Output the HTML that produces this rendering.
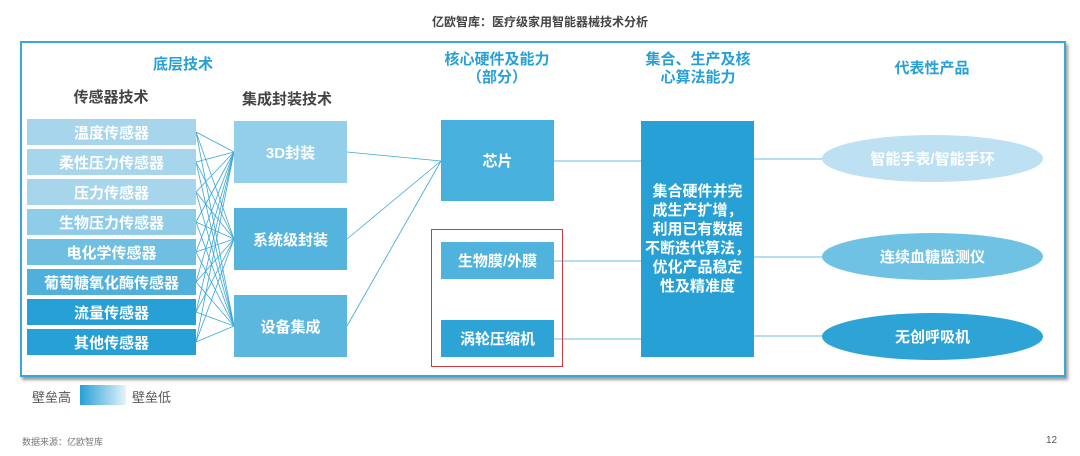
<!DOCTYPE html>
<html><head><meta charset="utf-8"><style>
body{margin:0;width:1080px;height:456px;background:#fff;position:relative;overflow:hidden;font-family:"Liberation Sans","Noto Sans CJK SC",sans-serif;}
.a{position:absolute;display:flex;align-items:center;justify-content:center;color:#fff;font-weight:bold;text-align:center;}
.h{position:absolute;color:#27a0d6;font-weight:bold;font-size:15px;text-align:center;line-height:18px;}
.s{left:27px;width:169px;height:26px;font-size:15px;}
.p{left:234px;width:113px;height:62px;font-size:15px;}
.e{left:822px;width:221px;height:47px;border-radius:50%;font-size:15px;}
</style></head><body>
<div style="position:absolute;left:0;top:13px;width:1080px;text-align:center;font-size:12px;font-weight:bold;color:#444;">亿欧智库：医疗级家用智能器械技术分析</div>
<div style="position:absolute;left:20px;top:41px;width:1042px;height:332px;border:2px solid #3aa7da;box-shadow:2px 3px 3px #999;"></div>
<svg style="position:absolute;left:0;top:0" width="1080" height="456">
<g stroke="#3aa7da" stroke-width="0.8">
<line x1="196" y1="132" x2="234" y2="152"/><line x1="196" y1="132" x2="234" y2="239"/><line x1="196" y1="132" x2="234" y2="326"/>
<line x1="196" y1="162" x2="234" y2="152"/><line x1="196" y1="162" x2="234" y2="239"/><line x1="196" y1="162" x2="234" y2="326"/>
<line x1="196" y1="192" x2="234" y2="152"/><line x1="196" y1="192" x2="234" y2="239"/><line x1="196" y1="192" x2="234" y2="326"/>
<line x1="196" y1="222" x2="234" y2="152"/><line x1="196" y1="222" x2="234" y2="239"/><line x1="196" y1="222" x2="234" y2="326"/>
<line x1="196" y1="252" x2="234" y2="152"/><line x1="196" y1="252" x2="234" y2="239"/><line x1="196" y1="252" x2="234" y2="326"/>
<line x1="196" y1="282" x2="234" y2="152"/><line x1="196" y1="282" x2="234" y2="239"/><line x1="196" y1="282" x2="234" y2="326"/>
<line x1="196" y1="312" x2="234" y2="152"/><line x1="196" y1="312" x2="234" y2="239"/><line x1="196" y1="312" x2="234" y2="326"/>
<line x1="196" y1="342" x2="234" y2="152"/><line x1="196" y1="342" x2="234" y2="239"/><line x1="196" y1="342" x2="234" y2="326"/>
<line x1="347" y1="152" x2="441" y2="161"/><line x1="347" y1="239" x2="441" y2="161"/><line x1="347" y1="326" x2="441" y2="161"/>
<line x1="554" y1="161" x2="641" y2="161"/><line x1="554" y1="261" x2="641" y2="261"/><line x1="554" y1="339" x2="641" y2="339"/>
<line x1="754" y1="159" x2="830" y2="159"/><line x1="754" y1="257" x2="830" y2="257"/><line x1="754" y1="336" x2="830" y2="336"/>
</g>
</svg>
<div style="position:absolute;left:431px;top:229px;width:130px;height:136px;border:1.5px solid #d0393e;"></div>
<div class="h" style="left:133px;top:56px;width:100px;">底层技术</div>
<div class="h" style="left:51px;top:89px;width:120px;color:#444;">传感器技术</div>
<div class="h" style="left:227px;top:91px;width:120px;color:#444;">集成封装技术</div>
<div class="h" style="left:427px;top:51px;width:140px;">核心硬件及能力<br>（部分）</div>
<div class="h" style="left:628px;top:51px;width:140px;">集合、生产及核<br>心算法能力</div>
<div class="h" style="left:872px;top:60px;width:120px;">代表性产品</div>
<div class="a s" style="top:119px;background:#a6d5ec">温度传感器</div>
<div class="a s" style="top:149px;background:#a6d5ec">柔性压力传感器</div>
<div class="a s" style="top:179px;background:#a6d5ec">压力传感器</div>
<div class="a s" style="top:209px;background:#8fcce8">生物压力传感器</div>
<div class="a s" style="top:239px;background:#6ebfe2">电化学传感器</div>
<div class="a s" style="top:269px;background:#4fb0dc">葡萄糖氧化酶传感器</div>
<div class="a s" style="top:299px;background:#26a0d5">流量传感器</div>
<div class="a s" style="top:329px;background:#26a0d5">其他传感器</div>
<div class="a p" style="top:121px;background:#93cfeb">3D封装</div>
<div class="a p" style="top:208px;background:#55b4de">系统级封装</div>
<div class="a p" style="top:295px;background:#5cb7df">设备集成</div>
<div class="a" style="left:441px;top:120px;width:113px;height:81px;background:#48b0dc;font-size:15px">芯片</div>
<div class="a" style="left:441px;top:242px;width:113px;height:37px;background:#4fb3dd;font-size:15px">生物膜/外膜</div>
<div class="a" style="left:441px;top:320px;width:113px;height:37px;background:#2ea3d6;font-size:15px">涡轮压缩机</div>
<div class="a" style="left:641px;top:121px;width:113px;height:236px;background:#26a0d5;font-size:15px;line-height:19px">集合硬件并完<br>成生产扩增，<br>利用已有数据<br>不断迭代算法，<br>优化产品稳定<br>性及精准度</div>
<div class="a e" style="top:135px;background:#bde0f2">智能手表/智能手环</div>
<div class="a e" style="top:233px;background:#70c2e4">连续血糖监测仪</div>
<div class="a e" style="top:313px;background:#2ea4d6">无创呼吸机</div>
<div style="position:absolute;left:32px;top:387px;font-size:13px;color:#555">壁垒高</div>
<div style="position:absolute;left:80px;top:385px;width:46px;height:20px;background:linear-gradient(90deg,#26a0d5,#e4f3fb)"></div>
<div style="position:absolute;left:132px;top:387px;font-size:13px;color:#555">壁垒低</div>
<div style="position:absolute;left:22px;top:435px;font-size:9px;color:#777">数据来源：亿欧智库</div>
<div style="position:absolute;left:1046px;top:435px;font-size:10px;color:#555">12</div>
</body></html>
